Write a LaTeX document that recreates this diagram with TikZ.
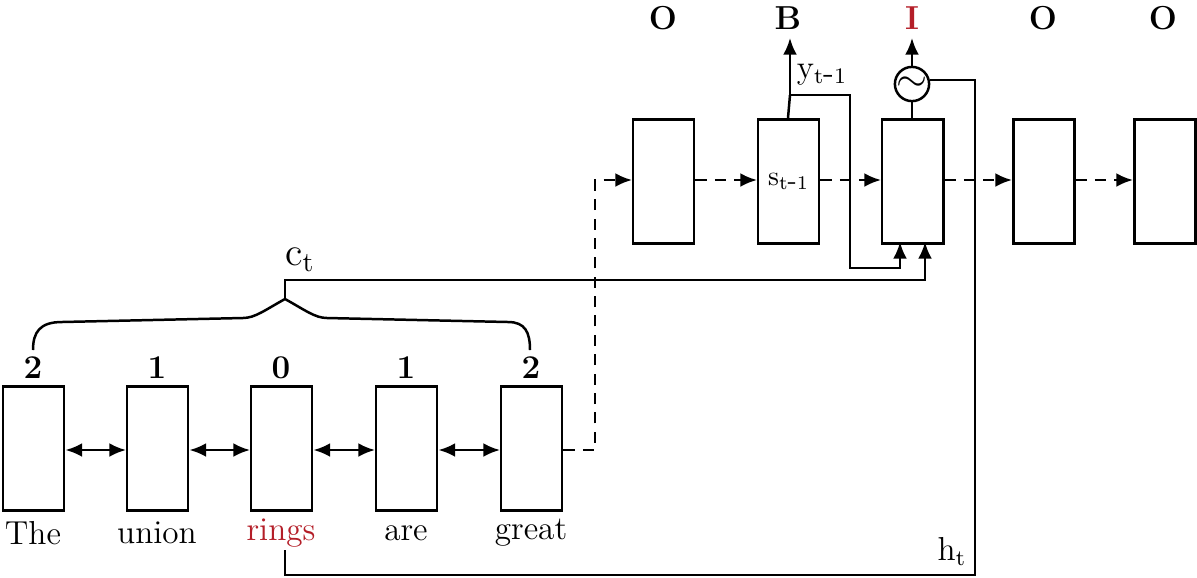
\documentclass[tikz,border=0pt]{standalone}
\usetikzlibrary{arrows.meta}
\begin{document}
\begin{tikzpicture}[x=0.0127cm,y=-0.0127cm,line width=0.9pt,
  box/.style={draw,minimum width=61*0.0127cm,minimum height=124*0.0127cm,inner sep=0,anchor=north west},
  arr/.style={-{Latex[length=6pt,width=5pt]}},
  darr/.style={arr,dashed,dash pattern=on 4pt off 3pt},
  word/.style={font=\large},
  lab/.style={font=\large\bfseries}]
\useasboundingbox (0,0) rectangle (1197,577);
\foreach \n/\x in {1/2,2/126,3/250,4/375,5/500}{\node[box] (b\n) at (\x,385) {};}
\foreach \n/\x in {1/632,2/757,3/881,4/1012,5/1133}{\node[box] (t\n) at (\x,118) {};}
\node at (t2.center) {s$_{\mathrm{t}\mbox{-}1}$};
\foreach \a/\b in {1/2,2/3,3/4,4/5}{\draw[{Latex[length=6pt,width=5pt]}-{Latex[length=6pt,width=5pt]}] (b\a.east|-0,450) -- (b\b.west|-0,450);}
\node[word] (w1) at (33,533) {The};
\node[word] (w2) at (157,533) {union};
\node[word,text={rgb,255:red,180;green,30;blue,40}] (w3) at (281,533) {rings};
\node[word] (w4) at (406,533) {are};
\node[word] (w5) at (531,533) {great};
\foreach \n/\x/\t in {1/33/2,2/157/1,3/281/0,4/406/1,5/531/2}{\node[lab] (n\n) at (\x,368) {\t};}
\foreach \n/\x/\t in {1/663/O,2/788/B,4/1043/O,5/1163/O}{\node[lab] (o\n) at (\x,18) {\t};}
\node[lab,text={rgb,255:red,180;green,30;blue,40}] (o3) at (912,18) {I};
% brace
\coordinate (peak) at (285,299);
\draw (33,350) .. controls (33,332) and (40,322) .. (62,322) -- (243,318) .. controls (255,318) and (265,310) .. (peak)
      .. controls (305,310) and (315,318) .. (327,318) -- (508,322) .. controls (525,322) and (530,332) .. (530,350);
\node[font=\Large] (ct) at (300,260) {c$_{\mathrm{t}}$};
\draw[arr] (peak) -- (285,280) -- (925,280) -- (925,242);
% dashed
\draw[darr] (b5.east|-0,450) -- (595,450) -- (595,180) -- (t1.west|-0,180);
\foreach \a/\b in {1/2,2/3,3/4,4/5}{\draw[darr] (t\a.east|-0,180) -- (t\b.west|-0,180);}
% y_{t-1}
\coordinate (y) at (790,95);
\draw (788,118) -- (y);
\draw[arr] (y) -- (790,38);
\draw[arr] (y) -- (850,95) -- (850,268) -- (900,268) -- (900,242);
\node[font=\large] at (822,75) {y$_{\mathrm{t}\mbox{-}1}$};
% circle
\node[draw,circle,minimum size=32*0.0127cm,inner sep=0,font=\Large] (c) at (912,84) {$\sim$};
\draw (912,118) -- (c.south);
\draw[arr] (c.north) -- (912,38);
\draw (c.east|-0,80) -- (975,80) -- (975,575) -- (285,575) -- (285,550);
\node[font=\large] at (952,551) {h$_{\mathrm{t}}$};
\end{tikzpicture}
\end{document}
